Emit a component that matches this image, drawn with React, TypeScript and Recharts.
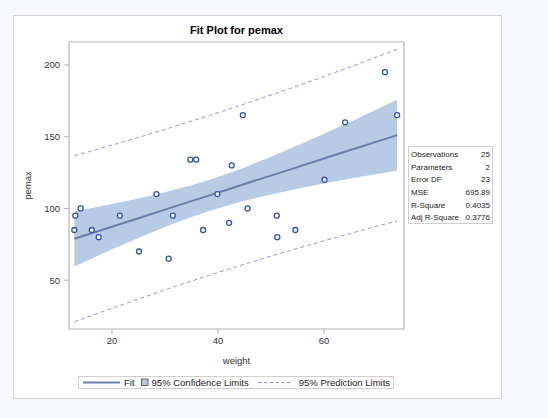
import {
  ComposedChart,
  Area,
  Line,
  Scatter,
  XAxis,
  YAxis,
  ReferenceArea,
} from "recharts";

// observed points
const weight = [13.1, 12.9, 14.1, 16.2, 21.5, 17.5, 30.7, 28.4, 25.1, 31.5, 39.9, 42.1, 45.6, 51.2, 35.9, 34.8, 44.7, 60.1, 42.6, 37.2, 54.6, 64.0, 73.8, 51.1, 71.5];
const pemax = [95, 85, 100, 85, 95, 80, 65, 110, 70, 95, 110, 90, 100, 80, 134, 134, 165, 120, 130, 85, 85, 160, 165, 95, 195];

// fit line and limits, read along weight
const bandWeight = [12.9, 16, 20, 25, 30, 35, 38.4, 42, 45, 50, 55, 60, 65, 70, 73.8];
const fit = [78.9, 82.5, 87.3, 93.2, 99.2, 105.1, 109.1, 113.4, 117.0, 122.9, 128.8, 134.8, 140.7, 146.6, 151.1];
const clLower = [59.6, 64.8, 71.5, 79.5, 87.1, 94.0, 98.2, 102.3, 105.3, 109.8, 113.8, 117.4, 120.9, 124.1, 126.5];
const clUpper = [98.1, 100.2, 103.1, 107.0, 111.3, 116.2, 120.0, 124.5, 128.6, 136.0, 143.8, 152.1, 160.5, 169.1, 175.7];
const plLower = [21.0, 25.2, 30.5, 36.9, 43.3, 49.4, 53.5, 57.7, 61.2, 66.8, 72.2, 77.5, 82.6, 87.6, 91.3];
const plUpper = [136.7, 139.9, 144.1, 149.5, 155.1, 160.8, 164.8, 169.1, 172.8, 179.0, 185.4, 192.0, 198.7, 205.6, 211.0];

const xTicks = [20, 40, 60];
const yTicks = [50, 100, 150, 200];

const statLabels = ["Observations", "Parameters", "Error DF", "MSE", "R-Square", "Adj R-Square"];
const statValues = ["25", "2", "23", "695.89", "0.4035", "0.3776"];

const FONT = "'Liberation Sans', Arial, sans-serif";
const GRID = "#b5b5b5";

const bandRows = bandWeight.map((w, i) => ({
  weight: w,
  fit: fit[i],
  cl: [clLower[i], clUpper[i]],
  plLower: plLower[i],
  plUpper: plUpper[i],
}));
const pointRows = weight.map((w, i) => ({ weight: w, pemax: pemax[i] }));

const Marker = (props: any) => (
  <circle cx={props.cx} cy={props.cy} r={2.5} fill="#fff" stroke="#2c52b5" strokeWidth={1.3} />
);

export default function App() {
  return (
    <div
      style={{
        position: "absolute",
        left: 0,
        top: 0,
        width: 548,
        height: 418,
        background: "#f7f9fd",
        fontFamily: FONT,
      }}
    >
      <div
        style={{
          position: "absolute",
          left: 13,
          top: 15,
          width: 489,
          height: 384,
          boxSizing: "border-box",
          background: "#fff",
          border: "1px solid #d4d4d4",
        }}
      />
      <div
        style={{
          position: "absolute",
          left: 69,
          width: 335,
          top: 24,
          textAlign: "center",
          fontSize: 11,
          fontWeight: "bold",
          color: "#000",
        }}
      >
        Fit Plot for pemax
      </div>

      <div style={{ position: "absolute", left: 0, top: 0 }}>
        <ComposedChart
          width={548}
          height={418}
          data={bandRows}
          margin={{ top: 42, right: 144, bottom: 59, left: 29 }}
        >
          <XAxis
            dataKey="weight"
            type="number"
            domain={[11.9, 75.1]}
            ticks={xTicks}
            allowDataOverflow
            height={30}
            axisLine={false}
            tickLine={{ stroke: GRID }}
            tickSize={5}
            tickMargin={3}
            tick={{ fontSize: 9.5, fill: "#333", fontFamily: FONT }}
            label={{
              content: (p: any) => (
                <text
                  x={p.viewBox.x + p.viewBox.width / 2}
                  y={p.viewBox.y + 35}
                  textAnchor="middle"
                  fontSize={9.5}
                  fill="#333"
                  fontFamily={FONT}
                >
                  weight
                </text>
              ),
            }}
          />
          <YAxis
            type="number"
            domain={[16, 216]}
            ticks={yTicks}
            allowDataOverflow
            width={40}
            axisLine={false}
            tickLine={{ stroke: GRID }}
            tickSize={5}
            tickMargin={4}
            tick={{ fontSize: 9.5, fill: "#333", fontFamily: FONT }}
            label={{
              content: (p: any) => {
                const cx = p.viewBox.x + 2;
                const cy = p.viewBox.y + p.viewBox.height / 2;
                return (
                  <text
                    x={cx}
                    y={cy}
                    transform={`rotate(-90 ${cx} ${cy})`}
                    textAnchor="middle"
                    fontSize={9.5}
                    fill="#333"
                    fontFamily={FONT}
                  >
                    pemax
                  </text>
                );
              },
            }}
          />
          <Area
            dataKey="cl"
            type="linear"
            fill="#b7cbe5"
            fillOpacity={1}
            stroke="none"
            isAnimationActive={false}
          />
          <Line
            dataKey="plUpper"
            type="linear"
            stroke="#8f98d8"
            strokeWidth={1}
            strokeDasharray="4 3"
            dot={false}
            isAnimationActive={false}
          />
          <Line
            dataKey="plLower"
            type="linear"
            stroke="#8f98d8"
            strokeWidth={1}
            strokeDasharray="4 3"
            dot={false}
            isAnimationActive={false}
          />
          <Line
            dataKey="fit"
            type="linear"
            stroke="#6a7ea6"
            strokeWidth={2}
            dot={false}
            isAnimationActive={false}
          />
          <Scatter
            data={pointRows}
            dataKey="pemax"
            shape={Marker}
            isAnimationActive={false}
          />
          <ReferenceArea
            x1={11.9}
            x2={75.1}
            y1={16}
            y2={216}
            fill="none"
            stroke={GRID}
            strokeWidth={1.2}
            ifOverflow="visible"
          />
        </ComposedChart>
      </div>

      <div
        style={{
          position: "absolute",
          left: 408,
          top: 146,
          width: 85,
          height: 78,
          boxSizing: "border-box",
          border: "1px solid #cfcfcf",
          background: "#fff",
          padding: "2px 2px 0 2px",
          fontSize: 8,
          color: "#222",
        }}
      >
        {statLabels.map((l, i) => (
          <div
            key={l}
            style={{ display: "flex", justifyContent: "space-between", height: 12.7, lineHeight: "12.7px" }}
          >
            <span>{l}</span>
            <span>{statValues[i]}</span>
          </div>
        ))}
      </div>

      <div
        style={{
          position: "absolute",
          left: 78,
          top: 376,
          width: 316,
          height: 13,
          boxSizing: "border-box",
          border: "1px solid #cfcfcf",
          background: "#fff",
          fontSize: 9.5,
          color: "#222",
          display: "flex",
          alignItems: "center",
          whiteSpace: "nowrap",
        }}
      >
        <svg width={42} height={11} style={{ marginLeft: 3 }}>
          <line x1={1} y1={5.5} x2={38} y2={5.5} stroke="#6a7ea6" strokeWidth={2} />
        </svg>
        <span>Fit</span>
        <svg width={14} height={11} style={{ marginLeft: 5 }}>
          <rect x={1.5} y={2} width={6.5} height={6.5} fill="#b7cbe5" stroke="#444" strokeWidth={0.8} />
        </svg>
        <span style={{ marginLeft: -2 }}>95% Confidence Limits</span>
        <svg width={40} height={11} style={{ marginLeft: 8 }}>
          <line x1={1} y1={5.5} x2={35} y2={5.5} stroke="#8f98d8" strokeWidth={1} strokeDasharray="3.5 2.3" />
        </svg>
        <span style={{ marginLeft: 2 }}>95% Prediction Limits</span>
      </div>
    </div>
  );
}
